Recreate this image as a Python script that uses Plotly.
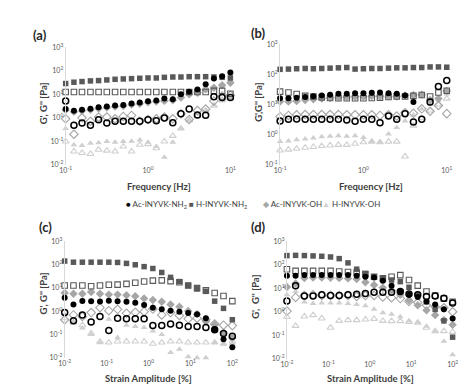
import plotly.graph_objects as go

W, H = 474, 391

# ---------------- data ----------------
FREQ = [0.1, 0.126, 0.158, 0.2, 0.251, 0.316, 0.398, 0.501, 0.631, 0.794, 1.0,
        1.26, 1.58, 2.0, 2.51, 3.16, 3.98, 5.01, 6.31, 7.94, 10.0]
STRAIN = [0.01, 0.0162, 0.0264, 0.0428, 0.0695, 0.113, 0.183, 0.298, 0.483, 0.785,
          1.27, 2.07, 3.36, 5.46, 8.86, 14.4, 23.4, 37.9, 61.6, 100]

SAMPLES = ["Ac-INYVK-NH<sub>2</sub>", "H-INYVK-NH<sub>2</sub>", "Ac-INYVK-OH", "H-INYVK-OH"]

# (a) frequency sweep
A_AC_NH2_G1 = [2.37, 2.02, 2.22, 2.45, 2.78, 3.06, 3.37, 3.48, 4.08, 4.50, 5.11, 5.44, 6.59, 6.19, 10.0, 12.9, 16.1, 27.0, 46.5, 58.1, 85.3]
A_AC_NH2_G2 = [5.13, 0.48, 0.60, 0.48, 0.83, 0.60, 0.71, 0.71, 0.71, 0.72, 0.83, 0.75, 0.98, 0.62, 1.48, 2.37, 1.33, 1.29, 7.94, 7.24, 7.24]
A_H_NH2_G1 = [28.7, 32.7, 34.8, 37.1, 38.3, 40.8, 43.5, 45.0, 46.4, 48.0, 49.5, 49.5, 52.7, 54.5, 54.5, 56.2, 56.2, 56.2, 54.5, 52.7, 49.5]
A_H_NH2_G2 = [12.6, 12.6, 12.6, 12.6, 12.6, 12.6, 12.6, 12.6, 12.6, 12.6, 12.6, 12.6, 12.6, 12.6, 12.6, 12.6, 12.6, 12.6, 14.0, 14.0, 10.5]
A_AC_OH_G1 = [2.14, 1.82, 2.0, 2.19, 2.51, 2.75, 3.02, 3.16, 3.63, 3.98, 4.57, 4.90, 5.25, 5.62, 7.24, 10.0, 11.7, 16.2, 19.1, 24.5, 30.9]
A_AC_OH_G2 = [0.91, 0.20, 1.0, 0.71, 1.07, 1.07, 0.91, 1.15, 1.26, 0.71, 0.85, 0.91, 1.07, 0.91, 1.48, 0.85, 2.04, 2.37, 5.25, 8.51, 9.12]
A_H_OH_G1 = [0.35, 0.071, 0.066, 0.083, 0.087, 0.098, 0.091, 0.098, 0.10, 0.115, 0.091, 0.060, 0.021, 0.091, 0.35, 0.83, 1.48, 2.04, 3.47, 5.25, 7.24]
A_H_OH_G2 = [0.098, 0.037, 0.032, 0.029, 0.044, 0.040, 0.037, 0.060, 0.037, 0.071, 0.076, 0.051, 0.098, 0.17, 0.35, 0.78, 1.17, 2.04, 3.24, 5.75, 6.61]

# (b) frequency sweep
B_AC_NH2_G1 = [16.2, 16.2, 17.0, 17.8, 19.1, 20.0, 21.4, 22.9, 22.9, 24.0, 24.0, 24.5, 25.1, 24.0, 22.9, 20.0, 12.3, None, None, None, None]
B_AC_NH2_G2 = [2.86, 3.24, 3.31, 3.24, 3.24, 3.24, 3.24, 3.24, 3.09, 2.82, 3.24, 3.24, 2.51, 4.17, 3.24, 5.01, 2.63, 3.24, 12.3, 39.8, 63.1]
B_H_NH2_G1 = [148, 151, 155, 158, 155, 158, 162, 166, 170, 151, 155, 158, 158, 162, 166, 166, 170, 170, 178, 178, 174]
B_H_NH2_G2 = [26.9, 25.1, 22.4, 19.5, 18.6, 17.4, 16.6, 16.2, 16.2, 16.2, 16.2, 16.6, 17.0, 17.8, 18.6, 18.6, 19.5, 20.9, 18.6, 25.1, 28.8]
B_AC_OH_G1 = [12.6, 12.6, 13.2, 14.1, 15.1, 15.8, 16.6, 17.4, 17.8, 18.2, 18.6, 19.1, 19.1, 19.1, 18.6, 20.0, 20.9, 21.4, 14.1, 15.8, 28.2]
B_AC_OH_G2 = [3.98, 4.37, 4.57, 4.68, 4.68, 4.68, 4.68, 4.68, 4.57, 4.57, 4.57, 4.57, 4.37, 4.57, 4.17, 5.37, 5.13, 7.24, 6.03, 9.33, 5.01]
B_H_OH_G1 = [0.59, 0.62, 0.68, 0.72, 0.78, 0.85, 0.89, 0.93, 0.89, 0.93, 0.81, 0.59, 0.56, 1.05, 1.74, 2.88, 4.47, 7.08, 10.0, 14.1, 22.4]
B_H_OH_G2 = [0.30, 0.32, 0.34, 0.37, 0.39, 0.42, 0.44, 0.46, 0.46, 0.50, 0.56, 0.59, 0.56, 0.59, 0.59, 0.19, 2.0, 3.55, 6.31, 10.0, 15.8]

# (c) strain sweep
C_AC_NH2_G1 = [3.72, 1.95, 2.75, 2.69, 2.57, 2.82, 2.69, 2.51, 2.29, 1.82, 1.41, 1.20, 1.05, 0.95, 0.83, 0.74, 0.50, 0.16, 0.062, 0.028]
C_AC_NH2_G2 = [0.87, 0.39, 0.69, 0.34, 0.59, 0.15, 0.50, 0.47, 0.47, 0.47, 0.24, 0.24, 0.28, 0.25, 0.22, 0.22, 0.20, 0.16, 0.11, 0.085]
C_H_NH2_G1 = [141, 126, 126, 126, 126, 126, 123, 112, 97.7, 81.3, 67.6, 45.7, 28.2, 18.6, 12.6, 9.12, 7.08, 2.69, 1.32, 0.43]
C_H_NH2_G2 = [12.6, 12.6, 12.6, 11.7, 12.6, 13.5, 13.8, 14.8, 16.6, 18.6, 20.4, 20.9, 19.5, 17.4, 12.6, 9.77, 7.76, 6.03, 4.47, 2.69]
C_AC_OH_G1 = [6.03, 5.62, 5.62, 6.61, 5.62, 5.13, 5.13, 4.79, 4.37, 3.47, 3.02, 2.51, 1.95, 1.55, 1.02, 0.74, 0.36, 0.26, 0.12, 0.072]
C_AC_OH_G2 = [0.43, 0.69, 0.59, 0.87, 1.41, 1.05, 1.20, 0.81, 0.89, 0.95, 1.23, 0.69, 0.87, 0.65, 0.47, 0.50, 0.43, 0.28, 0.25, 0.24]
C_H_OH_G1 = [0.71, 0.35, 0.19, 0.10, 0.044, 0.45, 0.074, 0.25, 0.22, 0.20, 0.14, 0.10, 0.017, 0.023, 0.011, 0.010, 0.010, 0.045, 0.040, 0.042]
C_H_OH_G2 = [0.50, 0.32, 0.25, 0.11, 0.049, 0.045, 0.050, 0.050, 0.050, 0.050, 0.040, 0.045, 0.050, 0.050, 0.045, 0.045, 0.045, 0.045, 0.040, 0.050]

# (d) strain sweep
D_AC_NH2_G1 = [33.9, 33.9, 36.3, 36.3, 36.3, 36.3, 36.3, 36.3, 33.9, 30.9, 28.8, 20.9, 12.9, 7.24, 5.25, 4.22, 2.75, 2.04, 1.29, 0.52]
D_AC_NH2_G2 = [2.88, 12.9, 4.68, 4.68, 5.25, 4.90, 4.90, 5.25, 5.62, 6.03, 6.76, 6.76, 6.76, 7.24, 5.75, 5.25, 4.47, 4.68, 3.80, 2.37]
D_H_NH2_G1 = [245, 251, 245, 237, 229, 214, 182, 120, 64.6, 42.2, 30.9, 26.3, 22.4, 19.1, 11.0, 5.25, 2.63, 1.26, 0.41, 0.083]
D_H_NH2_G2 = [64.6, 55.0, 55.0, 55.0, 55.0, 55.0, 51.3, 49.0, 46.8, 39.8, 30.9, 26.3, 30.9, 36.3, 22.4, 12.9, 7.24, 4.90, 3.63, 2.63]
D_AC_OH_G1 = [11.2, 15.8, 27.5, 28.8, 28.8, 28.2, 26.9, 26.3, 24.5, 17.8, 13.8, 10.5, 7.94, 5.25, 3.09, 1.91, 1.17, 0.72, 0.45, 0.28]
D_AC_OH_G2 = [1.07, 4.07, 4.90, 5.25, 4.90, 4.90, 4.90, 4.90, 4.47, 4.90, 4.90, 4.27, 3.98, 3.63, 2.75, 2.45, 1.91, 1.62, 1.48, 1.0]
D_H_OH_G1 = [5.25, 7.24, 2.63, 2.24, 2.37, 2.37, 2.37, 2.24, 2.04, 1.78, 1.29, 0.91, 0.78, 0.62, 0.41, 0.36, 0.24, 0.15, 0.056, 0.015]
D_H_OH_G2 = [0.60, 0.25, 0.63, 0.72, 0.52, 0.21, 0.41, 0.44, 0.44, 0.47, 0.50, 0.41, 0.40, 0.40, 0.37, 0.34, 0.21, 0.15, 0.15, 0.14]

# tick labels
TICK_VALS = [0.01, 0.1, 1, 10, 100, 1000]
TICK_TEXT = ["10<sup>-2</sup>", "10<sup>-1</sup>", "10<sup>0</sup>", "10<sup>1</sup>", "10<sup>2</sup>", "10<sup>3</sup>"]

# ---------------- style ----------------
FONT = "Lato, 'Liberation Sans', sans-serif"
C_AC_NH2, C_H_NH2, C_AC_OH, C_H_OH = "#000000", "#595959", "#a6a6a6", "#cfcfcf"

def px(x):
    return x / W

def py(y):
    return 1 - y / H

fig = go.Figure()

panels = [
    ("", FREQ, [(A_H_OH_G1, A_H_OH_G2, C_H_OH, "triangle-up", 6),
                (A_AC_OH_G1, A_AC_OH_G2, C_AC_OH, "diamond", 6.5),
                (A_H_NH2_G1, A_H_NH2_G2, C_H_NH2, "square", 5.5),
                (A_AC_NH2_G1, A_AC_NH2_G2, C_AC_NH2, "circle", 6)]),
    ("2", FREQ, [(B_H_OH_G1, B_H_OH_G2, C_H_OH, "triangle-up", 6),
                 (B_AC_OH_G1, B_AC_OH_G2, C_AC_OH, "diamond", 6.5),
                 (B_H_NH2_G1, B_H_NH2_G2, C_H_NH2, "square", 5.5),
                 (B_AC_NH2_G1, B_AC_NH2_G2, C_AC_NH2, "circle", 6)]),
    ("3", STRAIN, [(C_H_OH_G1, C_H_OH_G2, C_H_OH, "triangle-up", 6),
                   (C_AC_OH_G1, C_AC_OH_G2, C_AC_OH, "diamond", 6.5),
                   (C_H_NH2_G1, C_H_NH2_G2, C_H_NH2, "square", 5.5),
                   (C_AC_NH2_G1, C_AC_NH2_G2, C_AC_NH2, "circle", 6)]),
    ("4", STRAIN, [(D_H_OH_G1, D_H_OH_G2, C_H_OH, "triangle-up", 6),
                   (D_AC_OH_G1, D_AC_OH_G2, C_AC_OH, "diamond", 6.5),
                   (D_H_NH2_G1, D_H_NH2_G2, C_H_NH2, "square", 5.5),
                   (D_AC_NH2_G1, D_AC_NH2_G2, C_AC_NH2, "circle", 6)]),
]

for suffix, xs, series in panels:
    for g1, g2, col, sym, size in series:
        fig.add_trace(go.Scatter(
            x=xs, y=g1, mode="markers", xaxis="x" + suffix, yaxis="y" + suffix,
            marker=dict(symbol=sym, color=col, size=size, line=dict(width=0)),
            cliponaxis=False, showlegend=False, hoverinfo="skip"))
        fig.add_trace(go.Scatter(
            x=xs, y=g2, mode="markers", xaxis="x" + suffix, yaxis="y" + suffix,
            marker=dict(symbol=sym + "-open", color=col, size=size,
                        line=dict(width=1.5 if col == C_AC_NH2 else 1.1)),
            cliponaxis=False, showlegend=False, hoverinfo="skip"))

def xax(domain, rng):
    return dict(type="log", domain=domain, range=rng, showgrid=False, zeroline=False,
                showline=False, ticks="", tickvals=TICK_VALS, ticktext=TICK_TEXT,
                tickfont=dict(size=7, color="#595959", family=FONT))

def yax(domain, rng, anchor):
    return dict(type="log", domain=domain, range=rng, showgrid=False, zeroline=False,
                showline=True, linecolor="#d9d9d9", linewidth=1, ticks="",
                tickvals=TICK_VALS, ticktext=TICK_TEXT, anchor=anchor,
                tickfont=dict(size=7, color="#595959", family=FONT))

fig.update_layout(
    width=W, height=H, margin=dict(l=0, r=0, t=0, b=0),
    paper_bgcolor="white", plot_bgcolor="white", showlegend=False,
    font=dict(family=FONT, color="#404040"),
    xaxis=xax([px(53), px(222)], [-1, 1]) | dict(anchor="y"),
    yaxis=yax([py(155), py(35)], [-2, 3], "x"),
    xaxis2=xax([px(273), px(444)], [-1, 1]) | dict(anchor="y2"),
    yaxis2=yax([py(155), py(32)], [-1, 3], "x2"),
    xaxis3=xax([px(52), px(224)], [-2, 2]) | dict(anchor="y3"),
    yaxis3=yax([py(352), py(233)], [-2, 3], "x3"),
    xaxis4=xax([px(280), px(450)], [-2, 2]) | dict(anchor="y4"),
    yaxis4=yax([py(353), py(233)], [-2, 3], "x4"),
)

ann = []
def text(x, y, s, size=9, bold=False, angle=0, anchor="center", color="#404040"):
    ann.append(dict(x=px(x), y=py(y), xref="paper", yref="paper", showarrow=False,
                    text=f"<b>{s}</b>" if bold else s, textangle=angle,
                    xanchor=anchor, yanchor="middle",
                    font=dict(size=size, family=FONT, color=color)))

for lbl, x, y in [("(a)", 27, 22), ("(b)", 251, 20), ("(c)", 32, 218), ("(d)", 251, 218)]:
    text(x, y, lbl, size=13, bold=True, color="#262626")

text(149, 177, "Frequency [Hz]", size=9.5, bold=True)
text(366, 177, "Frequency [Hz]", size=9.5, bold=True)
text(138, 373, "Strain Amplitude [%]", size=9.5, bold=True)
text(366, 373, "Strain Amplitude [%]", size=9.5, bold=True)

text(30, 92, "G', G'' [Pa]", size=9.5, bold=True, angle=-90)
text(250, 91, "G',G'' [Pa]", size=9.5, bold=True, angle=-90)
text(30, 286, "G', G'' [Pa]", size=9.5, bold=True, angle=-90)
text(247, 290, "G',  G'' [Pa]", size=9.5, bold=True, angle=-90)

# legend
LEG_SYMBOLS = ["●", "■", "◆", "▲"]
LEG_COLORS = [C_AC_NH2, C_H_NH2, C_AC_OH, C_H_OH]
LEG_X = [113, 177, 253, 314]
for s, sym, col, x in zip(SAMPLES, LEG_SYMBOLS, LEG_COLORS, LEG_X):
    text(x, 195, f"<span style='color:{col}'>{sym}</span> {s}", size=8, anchor="left",
         color="#404040")

fig.update_layout(annotations=ann)
fig.write_html("out.html")
